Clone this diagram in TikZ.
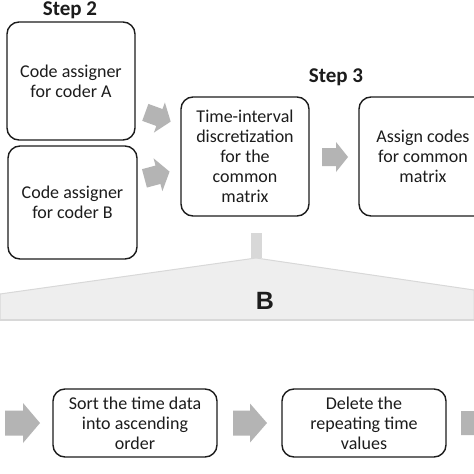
\documentclass[tikz,border=0pt]{standalone}
\usepackage{fontspec}
\setmainfont{Carlito}
\newfontfamily\arialfont{Liberation Sans}
\definecolor{arrgray}{RGB}{180,180,180}
\definecolor{panelfill}{RGB}{238,238,238}
\definecolor{paneledge}{RGB}{216,216,216}
\definecolor{inkc}{RGB}{28,28,28}
\newcommand{\blockarr}[7]{% x, y, angle, L, H, W, S
  \begin{scope}[shift={(#1,#2)},rotate=#3]
    \fill[arrgray] (-#4/2,#7/2) -- (#4/2-#5,#7/2) -- (#4/2-#5,#6/2) -- (#4/2,0)
      -- (#4/2-#5,-#6/2) -- (#4/2-#5,-#7/2) -- (-#4/2,-#7/2) -- cycle;
  \end{scope}}
\tikzset{
  procbox/.style={draw=inkc, line width=1.4pt, rounded corners=12pt, align=center,
    text=inkc, inner sep=0pt, font=\fontsize{18}{20}\selectfont},
  steplabel/.style={font=\fontsize{21}{24}\selectfont\bfseries, text=inkc, inner sep=0pt, anchor=base},
}
\begin{document}
\begin{tikzpicture}[x=1pt,y=-1pt]
\clip (0,0) rectangle (474,474);
\fill[white] (0,0) rectangle (474,474);
% panel B
\fill[paneledge] (251,233) rectangle (262,258);
\filldraw[fill=panelfill, draw=paneledge, line width=1pt] (0,294) -- (256,258) -- (474,290) -- (474,320) -- (0,320) -- cycle;
\draw[paneledge, line width=1.5pt] (0,320) -- (474,320);
\node[font=\arialfont\fontsize{25}{25}\selectfont\bfseries, text=inkc, inner sep=0pt] (blabel) at (265,301) {B};
% step labels
\node[steplabel] (step2) at (70,15) {Step 2};
\node[steplabel] (step3) at (336,82.5) {Step 3};
% top boxes
\node[procbox, minimum width=128pt, minimum height=118pt] (coderA) at (71,81) {Code assigner\\for coder A};
\node[procbox, minimum width=129pt, minimum height=113pt] (coderB) at (72.5,202.5) {Code assigner\\for coder B};
\node[procbox, minimum width=128pt, minimum height=119pt] (discr) at (245,156.5) {Time-interval\\discretization\\for the\\common\\matrix};
\node[procbox, minimum width=128pt, minimum height=119pt] (assign) at (423,156.5) {Assign codes\\for common\\matrix};
% bottom boxes
\node[procbox, minimum width=164pt, minimum height=68pt] (sort) at (135,423) {Sort the time data\\into ascending\\order};
\node[procbox, minimum width=164pt, minimum height=68pt] (delete) at (364,423) {Delete the\\repeating time\\values};
% block arrows
\blockarr{158}{117}{-20}{27}{12}{32}{18}
\blockarr{157}{175}{15}{26}{12}{34}{19}
\blockarr{335}{157}{0}{26}{12}{30}{18}
\blockarr{22.5}{423}{0}{35}{17}{40}{25}
\blockarr{250}{423}{0}{34}{17}{39}{25}
\blockarr{478.5}{423}{0}{35}{17}{40}{24}
\end{tikzpicture}
\end{document}
